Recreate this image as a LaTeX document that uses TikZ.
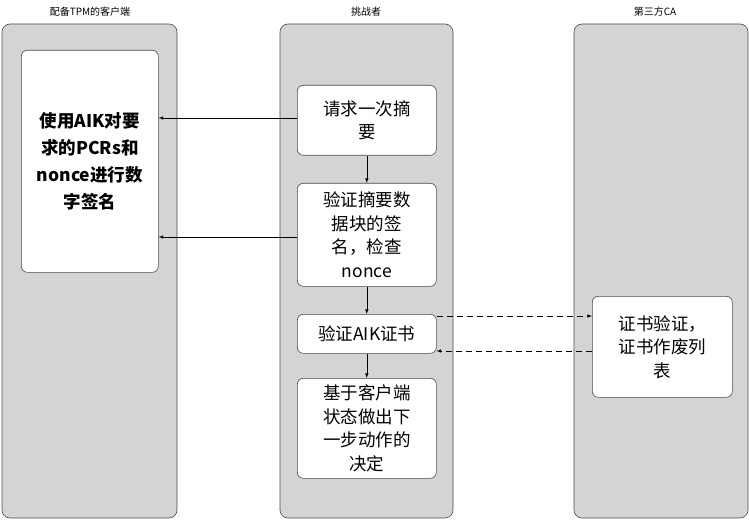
\documentclass[tikz,border=0pt]{standalone}
\usepackage{fontspec}
\setmainfont{Noto Sans CJK SC}
\begin{document}
\begin{tikzpicture}[x=1pt,y=-1pt,
 lane/.style={draw=black!70,fill=black!17,rounded corners=8pt,line width=0.6pt},
 box/.style={draw=black!70,fill=white,rounded corners=6pt,line width=0.6pt,align=center,font=\fontsize{17.5}{23.5}\selectfont,inner sep=1pt},
 title/.style={font=\fontsize{10}{12}\selectfont},
 arr/.style={-latex,line width=0.6pt},
 darr/.style={-latex,line width=0.6pt,dashed,dash pattern=on 6pt off 4pt}]
\useasboundingbox (0,0) rectangle (749,521);
\fill[white] (0,0) rectangle (749,521);
\draw[lane] (2,24) rectangle (177,518);
\draw[lane] (280,24) rectangle (453,518);
\draw[lane] (574,24) rectangle (748,518);
\node[title] (t1) at (90,12) {配备TPM的客户端};
\node[title] (t2) at (366,12) {挑战者};
\node[title] (t3) at (655,12) {第三方CA};
\node[box,minimum width=137,minimum height=222,anchor=north west,text width=133,font=\fontsize{17.5}{27}\selectfont\bfseries] (L) at (21,50) {使用AIK对要\\求的PCRs和\\nonce进行数\\字签名};
\node[box,minimum width=139,minimum height=70,anchor=north west,text width=135] (n1) at (297,85) {请求一次摘\\要};
\node[box,minimum width=139,minimum height=103,anchor=north west,text width=135] (n2) at (297,183) {验证摘要数\\据块的签\\名，检查\\nonce};
\node[box,minimum width=139,minimum height=39,anchor=north west,text width=135] (n3) at (297,314) {验证AIK证书};
\node[box,minimum width=139,minimum height=100,anchor=north west,text width=135] (n4) at (297,378) {基于客户端\\状态做出下\\一步动作的\\决定};
\node[box,minimum width=140,minimum height=101,anchor=north west,text width=136] (R) at (592,296) {证书验证，\\证书作废列\\表};
\draw[arr] (n1.west|-0,118) -- (L.east|-0,118);
\draw[arr] (n2.west|-0,237) -- (L.east|-0,237);
\draw[arr] (n1) -- (n2);
\draw[arr] (n2) -- (n3);
\draw[arr] (n3) -- (n4);
\draw[darr] (n3.east|-0,316) -- (R.west|-0,316);
\draw[darr] (R.west|-0,351) -- (n3.east|-0,351);
\end{tikzpicture}
\end{document}
